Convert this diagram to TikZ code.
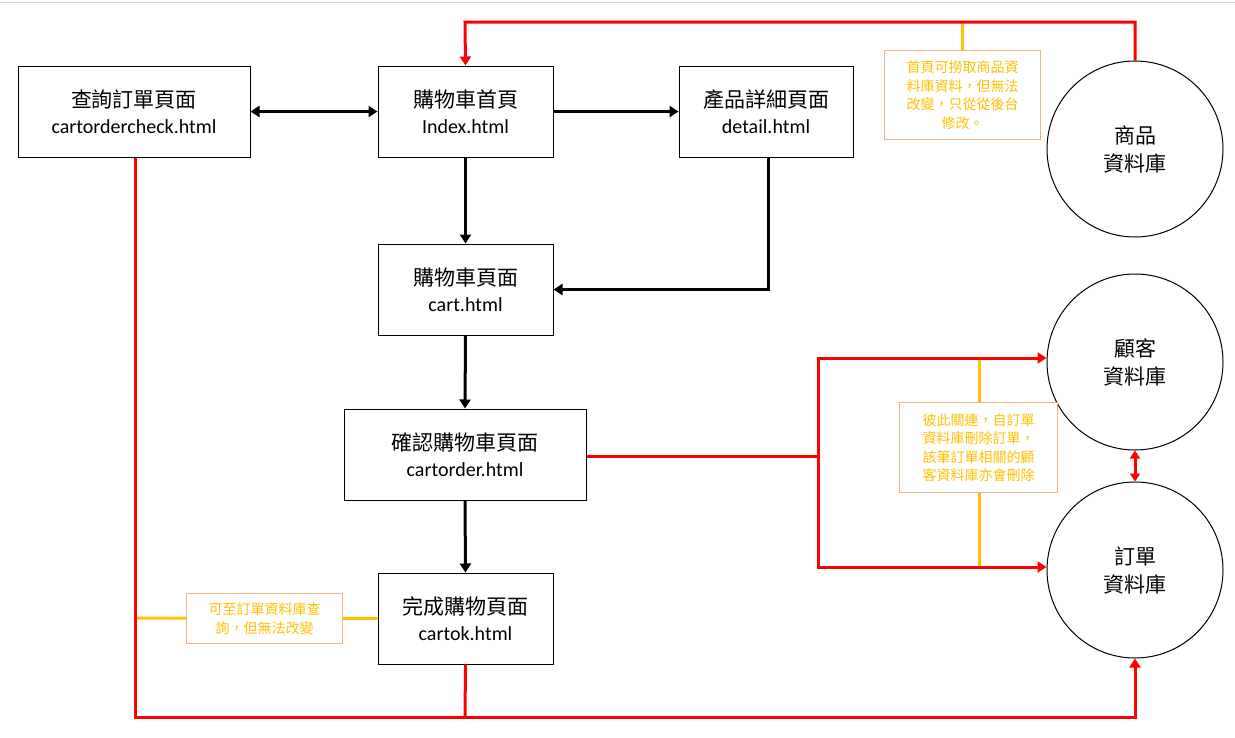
\documentclass[tikz,border=0pt]{standalone}
\usepackage{fontspec}
\setmainfont{Carlito}
\newfontfamily\cjk{Noto Sans CJK TC}
\usetikzlibrary{arrows.meta}
\definecolor{myred}{RGB}{255,0,0}
\definecolor{myor}{RGB}{255,192,0}
\definecolor{bord}{RGB}{244,177,131}
\begin{document}
\begin{tikzpicture}[x=1pt,y=-1pt,
 box/.style={draw=black,line width=1pt,minimum height=91pt,align=center,font=\fontsize{20}{26}\selectfont,inner sep=0pt},
 db/.style={circle,draw=black,line width=1pt,minimum size=176pt,align=center,font=\cjk\fontsize{21}{28}\selectfont,inner sep=0pt},
 note/.style={draw=bord,fill=white,line width=1pt,text=myor,align=center,font=\cjk\fontsize{14}{18.5}\selectfont,inner sep=2pt},
 blk/.style={line width=3pt,-{Triangle[length=9pt,width=11pt]}},
 red/.style={draw=myred,line width=3pt},
 rarr/.style={red,-{Triangle[length=9pt,width=11pt]}},
 org/.style={draw=myor,line width=3pt}]
\useasboundingbox (0,0) rectangle (1235,737);
\draw[gray!30] (0,2) -- (1235,2);
\node[box,minimum width=232pt] (q) at (134,111.5) {{\cjk\fontsize{21}{26}\selectfont 查詢訂單頁面}\\cartordercheck.html};
\node[box,minimum width=175pt] (h) at (465.5,111.5) {{\cjk\fontsize{21}{26}\selectfont 購物車首頁}\\Index.html};
\node[box,minimum width=174pt] (d) at (766,111.5) {{\cjk\fontsize{21}{26}\selectfont 產品詳細頁面}\\detail.html};
\node[box,minimum width=175pt] (c) at (465.5,289.5) {{\cjk\fontsize{21}{26}\selectfont 購物車頁面}\\cart.html};
\node[box,minimum width=242pt] (o) at (465,454.5) {{\cjk\fontsize{21}{26}\selectfont 確認購物車頁面}\\cartorder.html};
\node[box,minimum width=175pt] (k) at (465.5,618.5) {{\cjk\fontsize{21}{26}\selectfont 完成購物頁面}\\cartok.html};
\node[db] (p) at (1135,149) {商品\\資料庫};
\node[db] (u) at (1135,362) {顧客\\資料庫};
\node[db] (r) at (1135,570) {訂單\\資料庫};
\coordinate (t1) at (1135,22);
\coordinate (t2) at (465,22);
\coordinate (b1) at (135,717);
\coordinate (b2) at (465,717);
\coordinate (b3) at (1135,717);
\coordinate (m1) at (818,456);
\coordinate (m2) at (818,358);
\coordinate (m3) at (818,567);
\coordinate (n1) at (962,22);
\coordinate (n2) at (979,358);
\coordinate (n3) at (979,567);
\coordinate (l1) at (135,618);
% orange lines
\draw[org] (n1) -- (962,50);
\draw[org] (n2) -- (n3);
\draw[org] (l1) -- (k.west);
% black
\draw[blk,{Triangle[length=9pt,width=11pt]}-{Triangle[length=9pt,width=11pt]}] (q.east) -- (h.west);
\draw[blk] (h.east) -- (d.west);
\draw[blk] (h.south) -- (c.north);
\draw[blk] (d.south -| 768,0) |- (c.east);
\draw[blk] (c.south) -- (o.north);
\draw[blk] (o.south) -- (k.north);
% red
\draw[rarr] (p.north) -- (t1) -- (t2) -- (h.north);
\draw[red] (o.east |- m1) -- (m1);
\draw[rarr] (m1) -- (m2) -- (u.west |- m2);
\draw[rarr] (m1) -- (m3) -- (r.west |- m3);
\draw[red,{Triangle[length=8pt,width=10pt]}-{Triangle[length=8pt,width=10pt]}] (u.south) -- (r.north);
\draw[rarr] (q.south -| b1) -- (b1) -- (b3) -- (r.south);
\draw[red] (k.south) -- (b2);
% notes
\node[note,minimum width=156pt,minimum height=89pt,anchor=north west] (na) at (884,50) {首頁可撈取商品資\\料庫資料，但無法\\改變，只從從後台\\修改。};
\node[note,minimum width=158pt,minimum height=90pt,anchor=north west] (nb) at (899,402) {彼此關連，自訂單\\資料庫刪除訂單，\\該筆訂單相關的顧\\客資料庫亦會刪除};
\node[note,minimum width=156pt,minimum height=50pt,anchor=north west] (nc) at (186,593) {可至訂單資料庫查\\詢，但無法改變};
\end{tikzpicture}
\end{document}
